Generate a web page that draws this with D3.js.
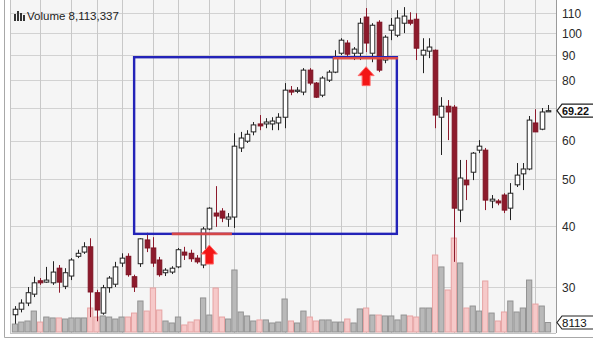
<!DOCTYPE html>
<html><head><meta charset="utf-8">
<script src="https://cdn.jsdelivr.net/npm/d3@7"></script>
<style>body{margin:0;background:#fff;} svg{display:block;font-family:"Liberation Sans",Arial,sans-serif;}</style>
</head><body><svg id="c" width="593" height="345"></svg>
<script>
// ---- data ----
const opens = [26.3,27.0,27.8,29.0,30.9,30.7,30.6,32.8,30.1,31.6,
 34.7,35.4,36.3,29.2,26.5,29.9,30.4,33.6,34.7,31.5,
 33.5,37.5,36.1,34.1,32.1,32.2,33.0,35.4,35.2,34.4,
 33.3,39.5,42.6,43.0,41.4,41.8,58.0,59.9,62.6,65.0,
 65.0,65.0,65.3,67.1,76.3,76.0,75.6,83.9,78.9,74.5,
 80.0,83.1,90.9,95.4,90.9,90.9,107.9,90.9,105.3,88.0,
 101.4,99.0,104.8,106.3,106.8,90.1,91.8,92.2,67.1,70.7,
 70.4,43.2,49.8,51.7,57.4,57.4,45.1,45.1,46.4,43.6,
 48.7,51.3,52.5,65.3,63.4,68.9];
const highs = [27.4,28.3,30.0,31.5,31.3,33.0,33.9,33.3,32.8,34.4,
 35.8,37.1,37.8,29.6,30.3,31.6,33.8,35.2,35.2,31.8,
 37.8,38.8,38.0,34.6,32.8,33.1,36.1,36.3,35.8,34.9,
 39.9,43.8,48.4,43.6,42.6,62.2,62.6,63.1,65.6,67.8,
 66.8,67.1,68.4,78.9,77.8,77.4,84.7,84.7,79.3,81.5,
 83.9,92.2,97.6,96.7,93.6,107.4,112.6,104.8,106.3,99.0,
 107.4,111.5,113.1,110.4,109.9,97.6,97.6,92.5,73.8,72.8,
 71.1,54.8,54.8,56.9,60.2,58.0,46.4,45.5,46.8,49.1,
 54.0,54.0,67.5,69.7,70.1,71.1];
const lows = [25.2,26.6,27.4,28.6,30.3,30.6,30.3,29.2,29.7,31.0,
 34.4,35.1,26.0,25.5,26.3,29.2,30.0,33.0,31.5,29.3,
 33.0,35.4,33.0,31.5,31.6,31.9,32.8,34.1,33.8,33.5,
 32.8,39.3,39.9,40.8,39.9,39.7,56.9,59.4,61.6,63.1,
 63.7,63.1,63.1,63.7,74.5,75.2,74.5,78.1,73.5,73.8,
 79.3,82.7,90.1,89.2,88.0,88.0,91.4,87.1,83.1,86.7,
 96.7,98.1,100.0,103.8,88.0,82.7,88.8,63.7,56.1,60.2,
 33.8,40.8,45.3,49.8,56.6,43.2,43.6,44.2,42.6,41.2,
 48.2,47.5,52.2,62.6,63.1,68.8];
const closes = [27.0,27.8,29.2,30.6,30.6,31.0,32.2,30.7,32.1,34.1,
 35.2,36.3,29.3,26.9,29.9,31.3,33.0,34.4,31.8,30.0,
 37.7,36.1,33.6,31.8,32.5,32.8,35.8,34.9,34.3,33.8,
 39.5,43.6,42.0,41.6,41.8,58.5,60.8,61.9,64.7,64.4,
 65.6,65.9,67.1,76.3,75.6,76.3,83.9,78.9,73.8,80.8,
 83.1,89.2,96.7,90.5,92.7,104.8,95.4,103.8,83.9,98.1,
 103.8,107.4,108.4,104.8,93.1,92.2,93.6,67.8,70.7,68.8,
 43.6,50.3,48.7,56.6,58.5,45.3,45.5,44.7,43.2,46.8,
 51.0,52.5,66.2,62.6,68.8,69.22];
const volumes = [6800,8500,9400,17900,8500,12800,12000,12000,11100,12000,
 12000,12000,20500,12800,13700,12800,11100,12800,12800,16200,
 26500,17900,37600,18800,9400,7700,12800,6000,8500,10300,
 29100,14500,37600,12800,11100,53000,17100,13700,9400,10300,
 10300,7700,8500,28200,9400,7700,17900,12800,9400,10300,
 10300,8500,8500,11100,7700,19700,20500,14500,14500,13700,
 13700,10300,14500,13700,12800,20500,20500,65800,55600,35900,
 80300,59000,20500,22200,17900,43600,16200,9400,17100,26500,
 17100,20500,44400,23900,22200,8113]; // thousands
const priceTicks = [30,40,50,60,70,80,90,100,110];
const priceLabels = ["30","40","50","60","","80","90","100","110"];
const gridDays = [4,9,13,17,22,26,31,35,39,43,47,52,56,60,64,67,70,74,78,83];
const lastPriceLabel = "69.22";
const lastVolumeLabel = "8113";
const legendLabel = "Volume 8,113,337";
// annotation anchors (day index / price)
const boxDays = [19, 60.9], boxPrices = [38.6, 89.2];
const redLine1Days = [25, 34.6], redLine2Days = [50.7, 61.1];
const arrowDays = [31, 56], arrowPrices = [36.6, 85.3];

// ---- layout ----
const svg = d3.select("#c");
const L = 10, R = 556, T = 0, B = 333;
const n = opens.length;
const x = d3.scaleBand().domain(d3.range(n)).range([11.865, 551.085]);
const xc = i => x.range()[0] + x.step() * (i + 0.5);
const y = d3.scaleLog().domain([30, 110]).range([287, 13]);
const vy = d3.scaleLinear().domain([0, 80000]).range([332, 238.4]);

svg.append("rect").attr("x",0).attr("y",0).attr("width",593).attr("height",345).attr("fill","#fff");
svg.append("rect").attr("x",L).attr("y",T).attr("width",R-L).attr("height",B-T).attr("fill","#f5f5f5");

// grid
const g = svg.append("g");
g.selectAll(".hg").data(priceTicks).join("line")
 .attr("x1",L).attr("x2",R).attr("y1",d=>Math.round(y(d))+0.5).attr("y2",d=>Math.round(y(d))+0.5)
 .attr("stroke","#d2d2d2").attr("stroke-width",1);
g.selectAll(".vg").data(gridDays).join("line")
 .attr("x1",d=>Math.round(xc(d))+0.5).attr("x2",d=>Math.round(xc(d))+0.5).attr("y1",T).attr("y2",B)
 .attr("stroke","#c8c8c8").attr("stroke-width",1);

// volume bars
const idx = d3.range(n);
const up = i => closes[i] >= opens[i];
svg.append("g").selectAll("rect").data(idx).join("rect")
 .attr("x",i=>x(i)+0.5).attr("width",x.bandwidth()-1)
 .attr("y",i=>vy(volumes[i])).attr("height",i=>vy(0)-vy(volumes[i]))
 .attr("fill",i=>up(i)?"#b9b9b9":"#f6c9c9")
 .attr("stroke",i=>up(i)?"#939393":"#e6a3a3").attr("stroke-width",1);

// candles
const cg = svg.append("g");
const bw = 4.6;
cg.selectAll("line").data(idx).join("line")
 .attr("x1",i=>Math.round(xc(i))+0.5).attr("x2",i=>Math.round(xc(i))+0.5)
 .attr("y1",i=>y(highs[i])).attr("y2",i=>y(lows[i]))
 .attr("stroke",i=>up(i)?"#222":"#8d1a2c").attr("stroke-width",1);
cg.selectAll("rect").data(idx).join("rect")
 .attr("x",i=>Math.round(xc(i))+0.5-bw/2).attr("width",bw)
 .attr("y",i=>y(Math.max(opens[i],closes[i])))
 .attr("height",i=>Math.max(1.2, Math.abs(y(opens[i])-y(closes[i]))))
 .attr("fill",i=>up(i)?"#fff":"#8d1a2c")
 .attr("stroke",i=>up(i)?"#222":"#7c1222").attr("stroke-width",1);

// annotations
svg.append("rect")
 .attr("x",xc(boxDays[0])).attr("y",y(boxPrices[1]))
 .attr("width",xc(boxDays[1])-xc(boxDays[0])).attr("height",y(boxPrices[0])-y(boxPrices[1]))
 .attr("fill","none").attr("stroke","#2323b8").attr("stroke-width",2.4);
svg.append("line").attr("x1",xc(redLine1Days[0])).attr("x2",xc(redLine1Days[1]))
 .attr("y1",y(boxPrices[0])).attr("y2",y(boxPrices[0]))
 .attr("stroke","#e84a3c").attr("stroke-width",2.6).attr("opacity",0.9);
svg.append("line").attr("x1",xc(redLine2Days[0])).attr("x2",xc(redLine2Days[1]))
 .attr("y1",y(boxPrices[1])+1).attr("y2",y(boxPrices[1])+1)
 .attr("stroke","#e84a3c").attr("stroke-width",2.6).attr("opacity",0.9);
arrowDays.forEach((d,k)=>{
  const ax = xc(d), ay = y(arrowPrices[k]);
  const pts = [[ax,ay],[ax+8,ay+9],[ax+4,ay+9],[ax+4,ay+19],[ax-4,ay+19],[ax-4,ay+9],[ax-8,ay+9]];
  svg.append("polygon").attr("points",pts.map(p=>p.join(",")).join(" "))
   .attr("fill","#f31616").attr("stroke","#ff6b6b").attr("stroke-width",1);
});

// frame
svg.append("line").attr("x1",R+0.5).attr("x2",R+0.5).attr("y1",0).attr("y2",B).attr("stroke","#9a9a9a");
svg.append("line").attr("x1",L+0.5).attr("x2",L+0.5).attr("y1",0).attr("y2",B).attr("stroke","#c4c4c4");
svg.append("line").attr("x1",L).attr("x2",R).attr("y1",B+0.5).attr("y2",B+0.5).attr("stroke","#c4c4c4");
svg.append("line").attr("x1",4.5).attr("x2",4.5).attr("y1",0).attr("y2",337.5).attr("stroke","#a8a8a8");
svg.append("line").attr("x1",4.5).attr("x2",593).attr("y1",337.5).attr("y2",337.5).attr("stroke","#a8a8a8");

// right axis labels
svg.append("g").selectAll("text").data(priceTicks.map((t,i)=>[t,priceLabels[i]]).filter(d=>d[1]))
 .join("text").attr("x",562).attr("y",d=>y(d[0])+4.5).attr("font-size",12).attr("fill","#2a2a2a").text(d=>d[1]);

// last price / volume tags
function tag(cy, label, bold, fs){
  const pts = [[557,cy],[562,cy-6.5],[600,cy-6.5],[600,cy+6.5],[562,cy+6.5]];
  svg.append("polygon").attr("points",pts.map(p=>p.join(",")).join(" "))
   .attr("fill","#fff").attr("stroke","#222").attr("stroke-width",1.2);
  svg.append("text").attr("x",562).attr("y",cy+4).attr("font-size",fs)
   .attr("font-weight",bold?"bold":"normal").attr("fill","#111").text(label);
}
tag(y(closes[n-1]), lastPriceLabel, true, 10.8);
tag(vy(volumes[n-1]), lastVolumeLabel, false, 11.5);

// legend
const lg = svg.append("g");
[[14,14,2,7],[17,11,2,10],[20,13,2,8],[23,15,2,6]].forEach(b=>
  lg.append("rect").attr("x",b[0]).attr("y",b[1]).attr("width",b[2]).attr("height",b[3]).attr("fill","#333"));
lg.append("text").attr("x",27).attr("y",20).attr("font-size",11.5).attr("fill","#222").text(legendLabel);
</script></body></html>
